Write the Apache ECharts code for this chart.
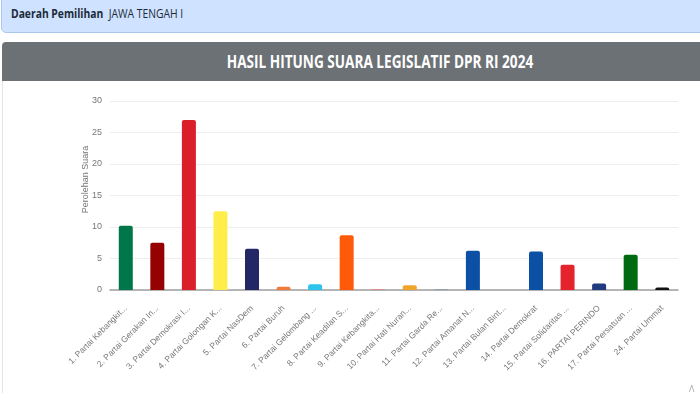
<!DOCTYPE html>
<html>
<head>
<meta charset="utf-8">
<script src="https://cdn.jsdelivr.net/npm/echarts@6/dist/echarts.min.js"></script>
<style>
  html, body { margin: 0; padding: 0; background: #fff; }
  #wrap { position: relative; width: 700px; height: 393px; overflow: hidden; font-family: "Open Sans", sans-serif; }
  #chart { position: absolute; left: 0; top: 0; width: 700px; height: 393px; }
  .dapil {
    position: absolute; left: 1px; top: -4px; width: 705px; height: 37px;
    background: #cfe2ff; border: 1px solid #aac8ee; border-radius: 5px; box-sizing: border-box;
  }
  .dapil span { position: absolute; top: 8px; font-size: 12px; color: #1c2b3a; transform-origin: left center; transform: scaleX(0.86); white-space: nowrap; }
  .dapil b { font-weight: 700; }
  .judul {
    position: absolute; left: 2px; top: 42px; width: 700px; height: 39px;
    background: #6c7176; border-radius: 4px 0 0 0;
  }
  .judul span {
    position: absolute; left: 378px; top: 8px; font-size: 17px; font-weight: 700; color: #fff;
    transform: translateX(-50%) scaleX(0.8); white-space: nowrap;
  }
  .kartu { position: absolute; left: 2px; top: 81px; width: 0; height: 320px; border-left: 1px solid #e4e4e4; }
  .naik { position: absolute; left: 689px; top: 382px; font-size: 9px; color: #aaa; }
</style>
</head>
<body>
<div id="wrap">
  <div id="chart"></div>
  <div class="dapil"><span style="left:9px"><b>Daerah Pemilihan</b>&nbsp; JAWA TENGAH I</span></div>
  <div class="judul"><span>HASIL HITUNG SUARA LEGISLATIF DPR RI 2024</span></div>
  <div class="kartu"></div>
  <div class="naik">&#923;</div>
</div>
<script>
// nama partai (terpotong seperti di gambar)
const partai = [
  '1. Partai Kebangkit...',
  '2. Partai Gerakan In...',
  '3. Partai Demokrasi I...',
  '4. Partai Golongan K...',
  '5. Partai NasDem',
  '6. Partai Buruh',
  '7. Partai Gelombang ...',
  '8. Partai Keadilan S...',
  '9. Partai Kebangkita...',
  '10. Partai Hati Nuran...',
  '11. Partai Garda Re...',
  '12. Partai Amanat N...',
  '13. Partai Bulan Bint...',
  '14. Partai Demokrat',
  '15. Partai Solidaritas ...',
  '16. PARTAI PERINDO',
  '17. Partai Persatuan ...',
  '24. Partai Ummat'
];
// perolehan suara
const suara = [10.2, 7.5, 27.0, 12.5, 6.55, 0.5, 0.9, 8.7, 0.1, 0.75, 0.1, 6.25, 0, 6.1, 4.0, 1.05, 5.6, 0.4];
// warna tiap partai
const warna = [
  '#00774a', '#950000', '#da1f2a', '#ffed4a', '#232766', '#ef7a3c',
  '#2bc4ee', '#ff5a0a', '#e58080', '#eea52a', '#8c98a4', '#0b50a4',
  '#1f8f3a', '#0b50a4', '#e5232c', '#223a80', '#006a10', '#111111'
];
const yTicks = [0, 5, 10, 15, 20, 25, 30];

const myChart = echarts.init(document.getElementById('chart'));
myChart.setOption({
  animation: false,
  grid: { left: 110, right: 22, top: 101, bottom: 103 },
  xAxis: {
    type: 'category',
    data: partai,
    axisTick: { show: false },
    axisLine: { lineStyle: { color: '#a0a0a0', width: 1.5 } },
    axisLabel: {
      rotate: 45, interval: 0, fontSize: 8.5, color: '#777',
      fontFamily: 'Liberation Sans', margin: 17
    }
  },
  yAxis: {
    type: 'value',
    min: yTicks[0],
    max: yTicks[yTicks.length - 1],
    interval: 5,
    name: 'Perolehan Suara',
    nameLocation: 'middle',
    nameGap: 20,
    nameMoveOverlap: false,
    nameTextStyle: { fontSize: 9, color: '#777', fontFamily: 'Liberation Sans', padding: [0, 0, 0, 32] },
    axisLabel: { fontSize: 9, color: '#777', fontFamily: 'Liberation Sans', margin: 8 },
    splitLine: { lineStyle: { color: '#eeeeee' } }
  },
  series: [{
    type: 'bar',
    barWidth: 14,
    data: suara.map((v, i) => ({ value: v, itemStyle: { color: warna[i] } })),
    itemStyle: { borderRadius: [2, 2, 0, 0] }
  }]
});
</script>
</body>
</html>
